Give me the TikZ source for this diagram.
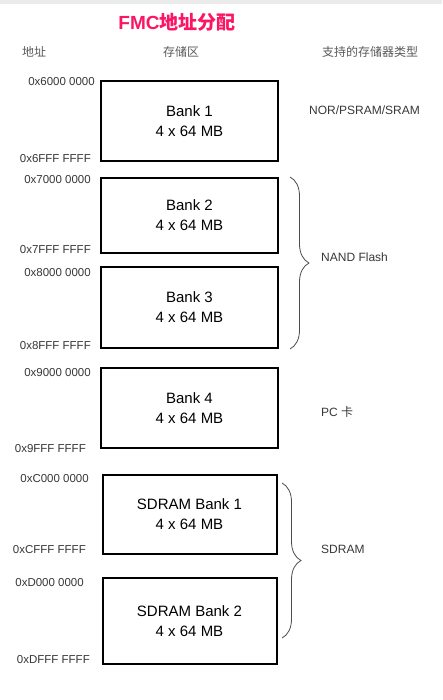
\documentclass[tikz,border=0pt]{standalone}
\usepackage{fontspec}
\setmainfont{Liberation Sans}
\newfontfamily\cjk{Noto Sans CJK SC}
\usetikzlibrary{positioning,decorations.pathreplacing}

\definecolor{titlepink}{RGB}{250,22,100}
\definecolor{txtgray}{RGB}{55,55,55}

\tikzset{
  bank/.style={draw, line width=2pt, outer sep=0pt, minimum width=177pt, align=center, font=\fontsize{15}{20}\selectfont},
  addr/.style={anchor=east, inner sep=0pt, text=txtgray, font=\fontsize{11.5}{13}\selectfont},
  kind/.style={anchor=west, inner sep=0pt, text=txtgray, font=\fontsize{12}{14}\selectfont},
  head/.style={inner sep=0pt, text=black!65, font=\cjk\fontsize{12}{14}\selectfont},
  grp/.style={decorate, decoration={brace, amplitude=19pt}, draw=black!70, line width=0.8pt}
}

\begin{document}
\begin{tikzpicture}[x=1pt, y=-1pt]
\useasboundingbox (0,0) rectangle (442,700);
\fill[black!8] (0,0) rectangle (442,4);

% title and column heads
\node (title) [inner sep=0pt, text=titlepink, font=\bfseries\fontsize{19}{22}\selectfont] at (177,22) {FMC{\cjk\bfseries 地址分配}};
\node (hAddr) [head] at (34,52) {地址};
\node (hBank) [head] at (181,52) {存储区};
\node (hType) [head] at (370,52) {支持的存储器类型};

% banks
\node (B1) [bank, minimum height=80pt] at (189.5,121) {Bank 1\\4 x 64 MB};
\node (B2) [bank, minimum height=75pt, below=17pt of B1] {Bank 2\\4 x 64 MB};
\node (B3) [bank, minimum height=81pt, below=14pt of B2] {Bank 3\\4 x 64 MB};
\node (B4) [bank, minimum height=80pt, below=20pt of B3] {Bank 4\\4 x 64 MB};
\node (S1) [bank, minimum height=79pt, minimum width=174pt, below=27pt of B4] {SDRAM Bank 1\\4 x 64 MB};
\node (S2) [bank, minimum height=86pt, minimum width=174pt, below=24pt of S1] {SDRAM Bank 2\\4 x 64 MB};

% addresses
\node (a1s) [addr] at (95,82) {0x6000 0000};
\node (a1e) [addr] at (91,159) {0x6FFF FFFF};
\node (a2s) [addr] at (91,180) {0x7000 0000};
\node (a2e) [addr] at (91,250) {0x7FFF FFFF};
\node (a3s) [addr] at (91,273) {0x8000 0000};
\node (a3e) [addr] at (91,346) {0x8FFF FFFF};
\node (a4s) [addr] at (91,373) {0x9000 0000};
\node (a4e) [addr] at (86,449) {0x9FFF FFFF};
\node (s1s) [addr] at (89,479) {0xC000 0000};
\node (s1e) [addr] at (86,550) {0xCFFF FFFF};
\node (s2s) [addr] at (84,583) {0xD000 0000};
\node (s2e) [addr] at (90,660) {0xDFFF FFFF};

% memory types
\coordinate (nandTop) at (290,177);
\coordinate (nandBot) at (290,349);
\coordinate (sdTop) at (282,483);
\coordinate (sdBot) at (282,638);
\draw[grp] (nandTop) -- (nandBot);
\draw[grp] (sdTop) -- (sdBot);
\node (tNor) [kind] at (309,110) {NOR/PSRAM/SRAM};
\node (tNand) [kind] at (321,257) {NAND Flash};
\node (tPc) [kind] at (321,412) {PC {\cjk 卡}};
\node (tSd) [kind] at (321,549) {SDRAM};
\end{tikzpicture}
\end{document}
